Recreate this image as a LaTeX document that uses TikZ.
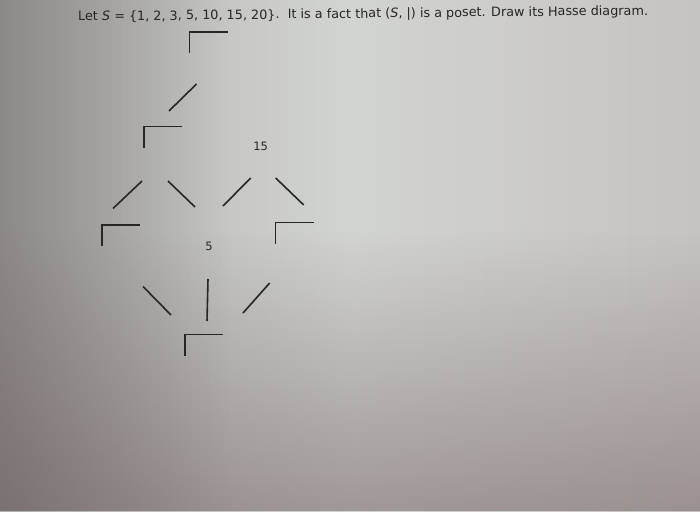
\documentclass[tikz,border=0pt]{standalone}
\usepackage{fontspec}
\setmainfont{DejaVu Sans}
\usetikzlibrary{calc,fadings}
\definecolor{paper}{HTML}{D2D4D1}
\definecolor{paperl}{HTML}{B0B0AD}
\definecolor{paperr}{HTML}{C6C3C1}
\definecolor{shadow}{HTML}{7E7070}
\definecolor{ink}{HTML}{262626}
\tikzset{
  elem/.style={rectangle, minimum width=38pt, minimum height=21pt, inner sep=0pt,
    append after command={\pgfextra{\draw[ink, line width=1.6pt]
      (\tikzlastnode.south west) |- (\tikzlastnode.north east);}}},
  num/.style={text=ink, font=\fontsize{11.5}{13}\selectfont, inner sep=0pt},
  link/.style={ink, line width=1.6pt}
}
\newcommand{\hl}[4]{\draw[link] ($(#1)+(#2)$) -- ($(#3)+(#4)$);}

\begin{document}
\begin{tikzpicture}[x=1pt, y=-1pt]
  \useasboundingbox (0,0) rectangle (700,511);
  % paper
  \shade[left color=paperl, right color=paperr, middle color=paper] (0,0) rectangle (700,511);
  \fill[shadow, opacity=.6, path fading=north] (0,230) rectangle (700,511);
  \fill[shadow!70!black, opacity=.4, path fading=east] (0,0) rectangle (230,511);
  % question
  \node[anchor=base west, rotate=0.6, text=ink, font=\fontsize{12.8}{15}\selectfont, inner sep=0pt] (q) at (78,21)
    {Let \textit{S} = \{1, 2, 3, 5, 10, 15, 20\}.\ \ It is a fact that (\textit{S}, |) is a poset. Draw its Hasse diagram.};
  % elements
  \node[elem] (n20) at (208.5,42.5) {};
  \node[elem] (n10) at (163,137) {};
  \node[num]  (n15) at (260.7,146) {15};
  \node[elem] (n2)  at (121,235.5) {};
  \node[num]  (n5)  at (209,246) {5};
  \node[elem] (n3)  at (294.7,233) {};
  \node[elem] (n1)  at (204,345) {};
  % covering pairs
  \hl{n10}{6,-26}{n20}{-12,41.5}
  \hl{n2}{-8,-27}{n10}{-21,44}
  \hl{n5}{-14,-39}{n10}{5,44}
  \hl{n5}{14,-40}{n15}{-10,32}
  \hl{n3}{9,-28}{n15}{15,32}
  \hl{n1}{-33,-30}{n2}{22,51}
  \hl{n1}{3,-24}{n5}{-1,33}
  \hl{n1}{39,-32}{n3}{-25,50}
\end{tikzpicture}
\end{document}
